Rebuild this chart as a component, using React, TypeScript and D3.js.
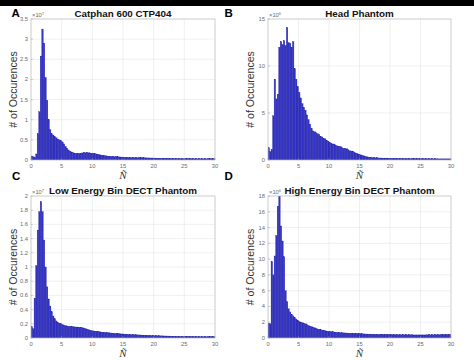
import React from 'react';
import * as d3 from 'd3';

// bin width of every histogram (N~ units), 120 bins from 0 to 30
const BIN = 0.25;

// Catphan 600 CTP404, counts x 1e7
const catphanCounts = [
  0.10, 0.08, 0.06, 0.15, 0.65, 1.20, 2.58, 3.25, 2.90, 2.05,
  1.48, 1.00, 0.75, 0.65, 0.62, 0.58, 0.55, 0.52, 0.50, 0.48,
  0.45, 0.40, 0.34, 0.29, 0.25, 0.22, 0.20, 0.18, 0.17, 0.165,
  0.16, 0.165, 0.17, 0.175, 0.18, 0.18, 0.18, 0.18, 0.175, 0.17,
  0.165, 0.16, 0.15, 0.14, 0.13, 0.125, 0.12, 0.11, 0.105, 0.10,
  0.097, 0.094, 0.091, 0.088, 0.085, 0.082, 0.079, 0.076, 0.074, 0.072,
  0.070, 0.068, 0.066, 0.065, 0.063, 0.062, 0.061, 0.060, 0.059, 0.058,
  0.057, 0.056, 0.055, 0.054, 0.053, 0.052, 0.051, 0.050, 0.050, 0.049,
  0.048, 0.047, 0.046, 0.046, 0.045, 0.044, 0.043, 0.042, 0.042, 0.041,
  0.040, 0.040, 0.039, 0.038, 0.038, 0.037, 0.037, 0.036, 0.036, 0.035,
  0.035, 0.034, 0.034, 0.033, 0.033, 0.033, 0.032, 0.032, 0.032, 0.031,
  0.031, 0.031, 0.031, 0.030, 0.030, 0.030, 0.030, 0.030, 0.029, 0.029,
];

// Head Phantom, counts x 1e6
const headCounts = [
  1.3, 0.9, 1.1, 4.7, 8.6, 6.5, 7.0, 12.0, 12.6, 12.3,
  12.7, 12.2, 14.1, 12.5, 12.4, 12.0, 12.6, 9.7, 8.6, 7.8,
  7.2, 6.6, 6.0, 5.6, 5.3, 4.8, 4.3, 3.8, 3.4, 3.1,
  3.0, 2.9, 2.8, 2.7, 2.5, 2.45, 2.3, 2.25, 2.1, 2.0,
  1.85, 1.8, 1.7, 1.7, 1.55, 1.5, 1.45, 1.45, 1.3, 1.25,
  1.2, 1.2, 1.1, 1.0, 0.95, 0.95, 0.85, 0.75, 0.7, 0.6,
  0.55, 0.5, 0.45, 0.4, 0.35, 0.32, 0.3, 0.28, 0.26, 0.25,
  0.24, 0.23, 0.22, 0.21, 0.21, 0.2, 0.2, 0.2, 0.19, 0.19,
  0.19, 0.18, 0.18, 0.18, 0.17, 0.17, 0.17, 0.17, 0.16, 0.16,
  0.16, 0.16, 0.16, 0.15, 0.15, 0.15, 0.15, 0.15, 0.14, 0.14,
  0.14, 0.14, 0.14, 0.14, 0.13, 0.13, 0.13, 0.13, 0.13, 0.13,
  0.13, 0.12, 0.12, 0.12, 0.12, 0.12, 0.12, 0.12, 0.12, 0.12,
];

// Low Energy Bin DECT Phantom, counts x 1e7
const lowEnergyCounts = [
  0.16, 0.13, 0.56, 1.02, 1.52, 1.78, 1.92, 1.78, 1.38, 1.00,
  0.72, 0.55, 0.45, 0.37, 0.31, 0.27, 0.24, 0.22, 0.21, 0.20,
  0.19, 0.18, 0.175, 0.17, 0.165, 0.162, 0.16, 0.158, 0.156, 0.155,
  0.154, 0.152, 0.15, 0.145, 0.14, 0.133, 0.125, 0.118, 0.11, 0.105,
  0.10, 0.097, 0.094, 0.091, 0.088, 0.085, 0.082, 0.08, 0.078, 0.076,
  0.074, 0.072, 0.07, 0.068, 0.066, 0.064, 0.062, 0.06, 0.058, 0.057,
  0.056, 0.054, 0.052, 0.051, 0.05, 0.048, 0.047, 0.046, 0.045, 0.044,
  0.043, 0.042, 0.041, 0.04, 0.039, 0.038, 0.037, 0.036, 0.035, 0.034,
  0.033, 0.032, 0.032, 0.031, 0.03, 0.03, 0.029, 0.028, 0.028, 0.027,
  0.027, 0.026, 0.026, 0.025, 0.025, 0.024, 0.024, 0.024, 0.023, 0.023,
  0.023, 0.022, 0.022, 0.022, 0.022, 0.021, 0.021, 0.021, 0.021, 0.021,
  0.02, 0.02, 0.02, 0.02, 0.02, 0.02, 0.02, 0.02, 0.02, 0.02,
];

// High Energy Bin DECT Phantom, counts x 1e6
const highEnergyCounts = [
  1.8, 1.8, 9.7, 8.0, 10.4, 13.0, 16.7, 18.3, 14.2, 12.3,
  10.3, 6.0, 4.6, 3.7, 3.3, 3.0, 2.8, 2.6, 2.4, 2.25,
  2.1, 2.0, 1.95, 1.85, 1.8, 1.7, 1.6, 1.5, 1.45, 1.35,
  1.3, 1.22, 1.15, 1.1, 1.05, 1.0, 0.96, 0.92, 0.88, 0.85,
  0.82, 0.8, 0.78, 0.76, 0.74, 0.72, 0.7, 0.68, 0.66, 0.65,
  0.64, 0.63, 0.62, 0.61, 0.6, 0.59, 0.58, 0.57, 0.56, 0.55,
  0.54, 0.53, 0.52, 0.51, 0.5, 0.5, 0.49, 0.49, 0.48, 0.48,
  0.47, 0.47, 0.46, 0.46, 0.45, 0.45, 0.45, 0.44, 0.44, 0.44,
  0.43, 0.43, 0.43, 0.42, 0.42, 0.42, 0.41, 0.41, 0.41, 0.41,
  0.40, 0.40, 0.40, 0.40, 0.40, 0.39, 0.39, 0.39, 0.39, 0.39,
  0.39, 0.39, 0.39, 0.39, 0.40, 0.40, 0.40, 0.40, 0.40, 0.41,
  0.41, 0.41, 0.42, 0.42, 0.42, 0.43, 0.43, 0.44, 0.44, 0.45,
];

const xTicks = [0, 5, 10, 15, 20, 25, 30];
const catphanTicks = [0, 0.5, 1, 1.5, 2, 2.5, 3, 3.5];
const headTicks = [0, 5, 10, 15];
const lowEnergyTicks = [0, 0.2, 0.4, 0.6, 0.8, 1, 1.2, 1.4, 1.6, 1.8, 2];
const highEnergyTicks = [0, 2, 4, 6, 8, 10, 12, 14, 16, 18];

const titles = ['Catphan 600 CTP404', 'Head Phantom', 'Low Energy Bin DECT Phantom', 'High Energy Bin DECT Phantom'];
const letters = ['A', 'B', 'C', 'D'];
const exponents = ['7', '6', '7', '6'];

const SANS = '"Liberation Sans", Arial, sans-serif';

interface PanelProps {
  idx: number;
  counts: number[];
  yTicks: number[];
  box: { left: number; right: number; top: number; bottom: number };
  letterPos: [number, number];
}

const Panel: React.FC<PanelProps> = ({ idx, counts, yTicks, box, letterPos }) => {
  const x = d3.scaleLinear().domain([0, 30]).range([box.left, box.right]);
  const y = d3.scaleLinear().domain([0, yTicks[yTicks.length - 1]]).range([box.bottom, box.top]);
  const clipId = `clip-${idx}`;
  const cx = (box.left + box.right) / 2;
  const cy = (box.top + box.bottom) / 2;

  return (
    <g>
      <defs>
        <clipPath id={clipId}>
          <rect x={box.left} y={box.top} width={box.right - box.left} height={box.bottom - box.top} />
        </clipPath>
      </defs>

      {/* grid */}
      <g stroke="#e6e6e6" strokeWidth={0.6}>
        {xTicks.map(t => (
          <line key={'gx' + t} x1={x(t)} x2={x(t)} y1={box.top} y2={box.bottom} />
        ))}
        {yTicks.map(t => (
          <line key={'gy' + t} x1={box.left} x2={box.right} y1={y(t)} y2={y(t)} />
        ))}
      </g>

      {/* bars */}
      <g clipPath={`url(#${clipId})`}>
        {counts.map((c, i) => (
          <rect
            key={i}
            x={x(i * BIN)}
            y={y(c)}
            width={x((i + 1) * BIN) - x(i * BIN)}
            height={box.bottom - y(c)}
            fill="#3232c8"
            stroke="#24249a"
            strokeWidth={0.3}
          />
        ))}
      </g>

      {/* axes box */}
      <rect x={box.left} y={box.top} width={box.right - box.left} height={box.bottom - box.top}
        fill="none" stroke="#c4c4c4" strokeWidth={0.7} />

      {/* tick marks */}
      <g stroke="#9a9a9a" strokeWidth={0.5}>
        {xTicks.map(t => (
          <line key={'tx' + t} x1={x(t)} x2={x(t)} y1={box.bottom} y2={box.bottom - 1.8} />
        ))}
        {yTicks.map(t => (
          <line key={'ty' + t} x1={box.left} x2={box.left + 1.8} y1={y(t)} y2={y(t)} />
        ))}
      </g>

      {/* tick labels */}
      <g fontFamily={SANS} fontSize={5.8} fill="#6b6b6b">
        {xTicks.map(t => (
          <text key={'lx' + t} x={x(t)} y={box.bottom + 8} textAnchor="middle">{t}</text>
        ))}
        {yTicks.map(t => (
          <text key={'ly' + t} x={box.left - 3} y={y(t) + 2} textAnchor="end">{t}</text>
        ))}
        <text x={box.left + 1} y={box.top - 2.5}>
          ×10<tspan fontSize={4} dy={-2}>{exponents[idx]}</tspan>
        </text>
      </g>

      {/* title */}
      <text x={cx} y={box.top - 2.5} textAnchor="middle" fontFamily={SANS} fontWeight="bold"
        fontSize={9.8} fill="#111">{titles[idx]}</text>

      {/* axis labels */}
      <text x={cx} y={box.bottom + 19} textAnchor="middle" fontFamily='"Liberation Serif", "Times New Roman", serif'
        fontStyle="italic" fontSize={11} fill="#333">Ñ</text>
      <text transform={`translate(${box.left - 14},${cy}) rotate(-90)`} textAnchor="middle"
        fontFamily={SANS} fontSize={10.5} fill="#333">
        # of Occurences
      </text>

      {/* panel letter */}
      <text x={letterPos[0]} y={letterPos[1]} fontFamily={SANS} fontWeight="bold" fontSize={11.5} fill="#000">
        {letters[idx]}
      </text>
    </g>
  );
};

export default function App() {
  return (
    <svg width={474} height={360} style={{ position: 'absolute', left: 0, top: 0, background: '#fff' }}>
      <rect x={0} y={0} width={474} height={360} fill="#fff" />
      <rect x={0} y={0} width={474} height={6} fill="#000" />
      <Panel idx={0} counts={catphanCounts} yTicks={catphanTicks}
        box={{ left: 31, right: 215, top: 19, bottom: 160 }} letterPos={[11.5, 16.5]} />
      <Panel idx={1} counts={headCounts} yTicks={headTicks}
        box={{ left: 268, right: 451, top: 19, bottom: 160 }} letterPos={[224.5, 16.5]} />
      <Panel idx={2} counts={lowEnergyCounts} yTicks={lowEnergyTicks}
        box={{ left: 31, right: 215, top: 196, bottom: 338 }} letterPos={[12, 180]} />
      <Panel idx={3} counts={highEnergyCounts} yTicks={highEnergyTicks}
        box={{ left: 268, right: 451, top: 196, bottom: 338 }} letterPos={[224.5, 180]} />
    </svg>
  );
}
